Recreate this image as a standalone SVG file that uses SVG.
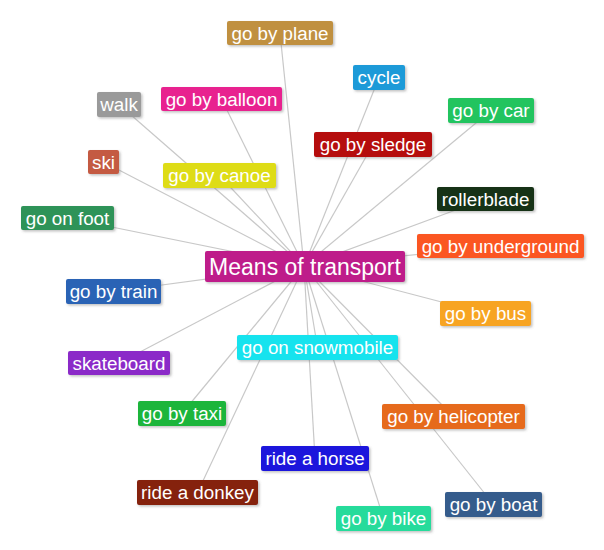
<svg xmlns="http://www.w3.org/2000/svg" width="604" height="550" viewBox="0 0 604 550">
<style>
.bg{fill:#ffffff}
.edge{stroke:#c8c8c8;stroke-width:1.2;fill:none}
.box{filter:url(#sh)}
.lbl{font-family:"Liberation Sans",Arial,sans-serif;font-size:18.8px;fill:#ffffff;text-anchor:middle}
.hub{font-size:23px}
</style>
<defs>
<filter id="sh" x="-10%" y="-20%" width="130%" height="150%">
<feDropShadow dx="1.5" dy="1.5" stdDeviation="0.8" flood-color="#777777" flood-opacity="0.45"/>
</filter>
</defs>
<rect class="bg" width="604" height="550"/>
<g id="connectors">
<line class="edge" x1="304" y1="266" x2="280" y2="33"/>
<line class="edge" x1="304" y1="266" x2="221.5" y2="99"/>
<line class="edge" x1="304" y1="266" x2="119" y2="104.5"/>
<line class="edge" x1="304" y1="266" x2="103.5" y2="162"/>
<line class="edge" x1="304" y1="266" x2="219.5" y2="175.5"/>
<line class="edge" x1="304" y1="266" x2="67.5" y2="218"/>
<line class="edge" x1="304" y1="266" x2="379" y2="77.5"/>
<line class="edge" x1="304" y1="266" x2="491" y2="110.5"/>
<line class="edge" x1="304" y1="266" x2="373" y2="144.5"/>
<line class="edge" x1="304" y1="266" x2="485.5" y2="199"/>
<line class="edge" x1="304" y1="266" x2="500.5" y2="246"/>
<line class="edge" x1="304" y1="266" x2="113.5" y2="291.5"/>
<line class="edge" x1="304" y1="266" x2="119" y2="363"/>
<line class="edge" x1="304" y1="266" x2="182" y2="413.5"/>
<line class="edge" x1="304" y1="266" x2="197.5" y2="492.5"/>
<line class="edge" x1="304" y1="266" x2="317.5" y2="347.5"/>
<line class="edge" x1="304" y1="266" x2="315" y2="458.5"/>
<line class="edge" x1="304" y1="266" x2="485.5" y2="313.5"/>
<line class="edge" x1="304" y1="266" x2="453.5" y2="416.5"/>
<line class="edge" x1="304" y1="266" x2="493.5" y2="504.5"/>
<line class="edge" x1="304" y1="266" x2="383.5" y2="518.5"/>
</g>
<g id="n-plane"><rect class="box" x="227" y="21" width="106" height="24" rx="2" fill="#c0903f"/><text class="lbl" x="280" y="39.5">go by plane</text></g>
<g id="n-balloon"><rect class="box" x="161" y="87" width="121" height="24" rx="2" fill="#e8238f"/><text class="lbl" x="221.5" y="105.5">go by balloon</text></g>
<g id="n-walk"><rect class="box" x="97" y="92" width="44" height="25" rx="2" fill="#9a9a9a"/><text class="lbl" x="119" y="111">walk</text></g>
<g id="n-ski"><rect class="box" x="88" y="150" width="31" height="24" rx="2" fill="#c45a43"/><text class="lbl" x="103.5" y="168.5">ski</text></g>
<g id="n-canoe"><rect class="box" x="163" y="163" width="113" height="25" rx="2" fill="#dedc18"/><text class="lbl" x="219.5" y="182">go by canoe</text></g>
<g id="n-foot"><rect class="box" x="21" y="206" width="93" height="24" rx="2" fill="#2f9358"/><text class="lbl" x="67.5" y="224.5">go on foot</text></g>
<g id="n-cycle"><rect class="box" x="353" y="65" width="52" height="25" rx="2" fill="#1e9ad8"/><text class="lbl" x="379" y="84">cycle</text></g>
<g id="n-car"><rect class="box" x="448" y="98" width="86" height="25" rx="2" fill="#20c45f"/><text class="lbl" x="491" y="117">go by car</text></g>
<g id="n-sledge"><rect class="box" x="314" y="132" width="118" height="25" rx="2" fill="#b5080f"/><text class="lbl" x="373" y="151">go by sledge</text></g>
<g id="n-rollerblade"><rect class="box" x="437" y="187" width="97" height="24" rx="2" fill="#123312"/><text class="lbl" x="485.5" y="205.5">rollerblade</text></g>
<g id="n-underground"><rect class="box" x="417" y="234" width="167" height="24" rx="2" fill="#fb5622"/><text class="lbl" x="500.5" y="252.5">go by underground</text></g>
<g id="n-train"><rect class="box" x="66" y="279" width="95" height="25" rx="2" fill="#2a63b5"/><text class="lbl" x="113.5" y="298">go by train</text></g>
<g id="n-skateboard"><rect class="box" x="68" y="351" width="102" height="24" rx="2" fill="#8b29c8"/><text class="lbl" x="119" y="369.5">skateboard</text></g>
<g id="n-taxi"><rect class="box" x="138" y="401" width="88" height="25" rx="2" fill="#1db53b"/><text class="lbl" x="182" y="420">go by taxi</text></g>
<g id="n-donkey"><rect class="box" x="137" y="480" width="121" height="25" rx="2" fill="#852010"/><text class="lbl" x="197.5" y="499">ride a donkey</text></g>
<g id="n-snowmobile"><rect class="box" x="237" y="335" width="161" height="25" rx="2" fill="#18e3ee"/><text class="lbl" x="317.5" y="354">go on snowmobile</text></g>
<g id="n-horse"><rect class="box" x="261" y="446" width="108" height="25" rx="2" fill="#1c16dc"/><text class="lbl" x="315" y="465">ride a horse</text></g>
<g id="n-bus"><rect class="box" x="440" y="301" width="91" height="25" rx="2" fill="#f7a423"/><text class="lbl" x="485.5" y="320">go by bus</text></g>
<g id="n-helicopter"><rect class="box" x="382" y="404" width="143" height="25" rx="2" fill="#e66a1c"/><text class="lbl" x="453.5" y="423">go by helicopter</text></g>
<g id="n-boat"><rect class="box" x="445" y="492" width="97" height="25" rx="2" fill="#345b8c"/><text class="lbl" x="493.5" y="511">go by boat</text></g>
<g id="n-bike"><rect class="box" x="336" y="506" width="95" height="25" rx="2" fill="#27db9b"/><text class="lbl" x="383.5" y="525">go by bike</text></g>
<g id="n-hub"><rect class="box" x="205" y="251" width="200" height="31" rx="2" fill="#be1f8a"/><text class="lbl hub" x="305" y="274.5">Means of transport</text></g>
</svg>
